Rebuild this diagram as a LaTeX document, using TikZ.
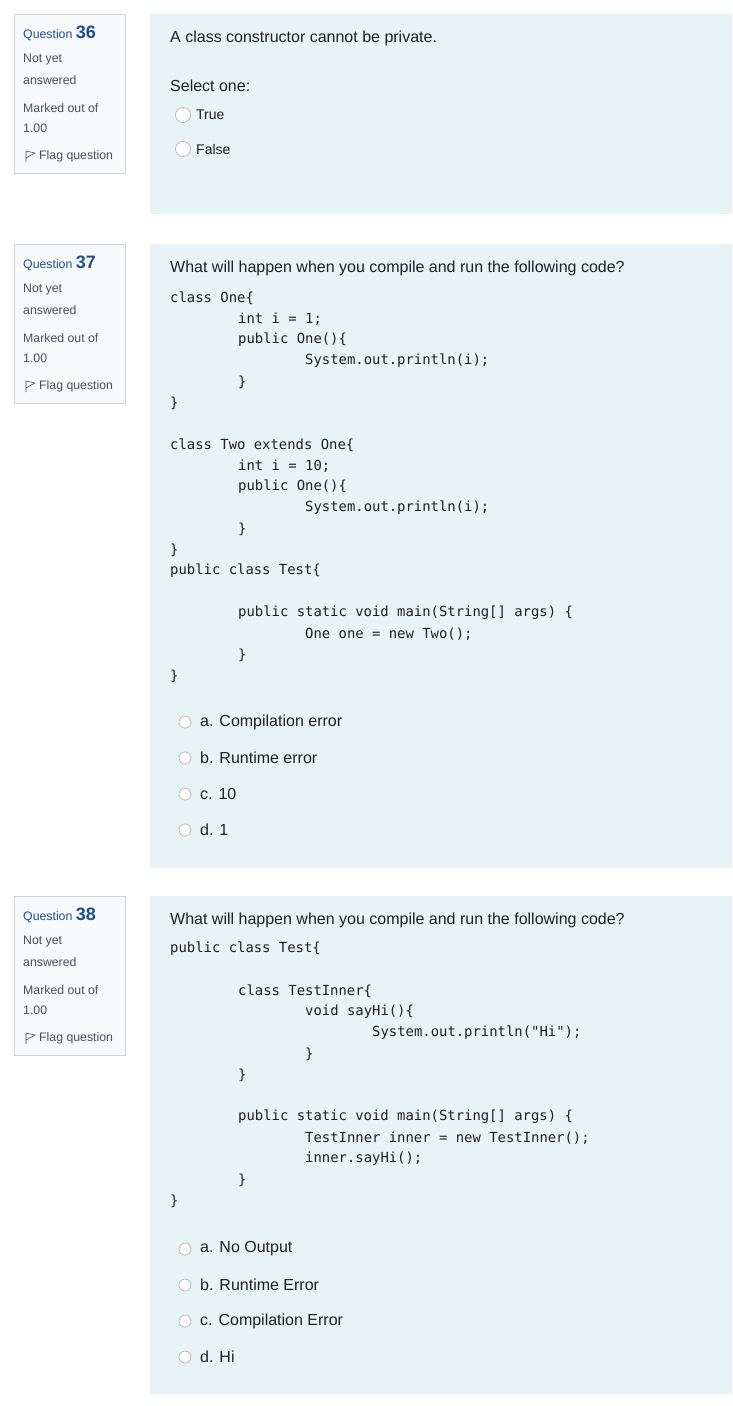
\documentclass[tikz,border=0pt]{standalone}
\usepackage{fontspec}
\setmainfont{Liberation Sans}
\setmonofont{DejaVu Sans Mono}
\definecolor{panel}{HTML}{E7F3F5}
\definecolor{side}{HTML}{F8F9FA}
\definecolor{sideb}{HTML}{CED4DA}
\definecolor{qblue}{HTML}{1F4E8C}
\definecolor{txt}{HTML}{1D2125}
\definecolor{grey}{HTML}{495057}
\begin{document}
\begin{tikzpicture}[x=1pt,y=-1pt,
  sidebox/.style={draw=sideb,fill=side,line width=0.8pt},
  panelbox/.style={fill=panel,draw=none},
  small/.style={anchor=west,inner sep=0pt,font=\fontsize{12.3}{14}\selectfont,text=grey},
  qtext/.style={anchor=west,inner sep=0pt,font=\fontsize{16}{18}\selectfont,text=txt},
  otext/.style={anchor=west,inner sep=0pt,font=\fontsize{14}{16}\selectfont,text=txt},
  code/.style={anchor=west,inner sep=0pt,font=\ttfamily\fontsize{13.9}{16}\selectfont,text=txt},
  radio/.style={circle,draw=gray!60,fill=white,line width=0.7pt,minimum size=#1,inner sep=0pt},
]
\useasboundingbox (0,0) rectangle (732,1406);
\fill[white] (0,0) rectangle (732,1406);
\newcommand{\sidebar}[2]{%
  \draw[sidebox] (14,#1) rectangle (125,#1+159);
  \node[anchor=west,inner sep=0pt,text=qblue] (q#2) at (23,#1+19) {\fontsize{12.3}{14}\selectfont Question \fontsize{18}{20}\selectfont\bfseries #2};
  \node[small] (ny#2) at (23,#1+46) {Not yet};
  \node[small] (an#2) at (23,#1+66) {answered};
  \node[small] (mo#2) at (23,#1+94) {Marked out of};
  \node[small] (pt#2) at (23,#1+114) {1.00};
  \draw[grey,line width=0.6pt,line join=round] (26,#1+148) -- (26,#1+137) -- (35,#1+139) -- (26,#1+144);
  \node[small] (fl#2) at (39,#1+142) {Flag question};
}
\sidebar{14}{36}
\sidebar{244}{37}
\sidebar{896}{38}
\fill[panelbox] (150,14) rectangle (732,214);
\fill[panelbox] (150,244) rectangle (732,868);
\fill[panelbox] (150,896) rectangle (732,1394);
% Q36
\node[qtext] (t36) at (170,38) {A class constructor cannot be private.};
\node[qtext] (s36) at (170,86) {Select one:};
\node[radio=15pt] (r1) at (183,115) {};
\node[otext] (o1) at (196,115) {True};
\node[radio=15pt] (r2) at (183,149) {};
\node[otext] (o2) at (196,149) {False};
% Q37
\node[qtext] (t37) at (170,268) {What will happen when you compile and run the following code?};
\newcommand{\cl}[4]{\node[code] (#1) at (#2,#3) {#4};}
\cl{a1}{170}{298}{class One\{}
\cl{a2}{238}{319}{int i = 1;}
\cl{a3}{238}{340}{public One()\{}
\cl{a4}{305}{361}{System.out.println(i);}
\cl{a5}{238}{382}{\}}
\cl{a6}{170}{403}{\}}
\cl{a7}{170}{445}{class Two extends One\{}
\cl{a8}{238}{466}{int i = 10;}
\cl{a9}{238}{487}{public One()\{}
\cl{a10}{305}{508}{System.out.println(i);}
\cl{a11}{238}{529}{\}}
\cl{a12}{170}{550}{\}}
\cl{a13}{170}{571}{public class Test\{}
\cl{a14}{238}{613}{public static void main(String[] args) \{}
\cl{a15}{305}{634}{One one = new Two();}
\cl{a16}{238}{655}{\}}
\cl{a17}{170}{676}{\}}
\foreach \yy/\lab [count=\i] in {722/a. Compilation error,758/b. Runtime error,794/c. 10,830/d. 1}{
  \node[radio=12pt] (ra\i) at (185,\yy) {};
  \node[qtext] (oa\i) at (200,\yy) {\lab};
}
% Q38
\node[qtext] (t38) at (170,920) {What will happen when you compile and run the following code?};
\cl{b1}{170}{949}{public class Test\{}
\cl{b2}{238}{991}{class TestInner\{}
\cl{b3}{305}{1012}{void sayHi()\{}
\cl{b4}{372}{1033}{System.out.println("Hi");}
\cl{b5}{305}{1054}{\}}
\cl{b6}{238}{1075}{\}}
\cl{b7}{238}{1117}{public static void main(String[] args) \{}
\cl{b8}{305}{1138}{TestInner inner = new TestInner();}
\cl{b9}{305}{1159}{inner.sayHi();}
\cl{b10}{238}{1180}{\}}
\cl{b11}{170}{1201}{\}}
\foreach \yy/\lab [count=\i] in {1249/a. No Output,1285/b. Runtime Error,1321/c. Compilation Error,1357/d. Hi}{
  \node[radio=12pt] (rb\i) at (185,\yy) {};
  \node[qtext] (ob\i) at (200,\yy) {\lab};
}
\end{tikzpicture}
\end{document}
